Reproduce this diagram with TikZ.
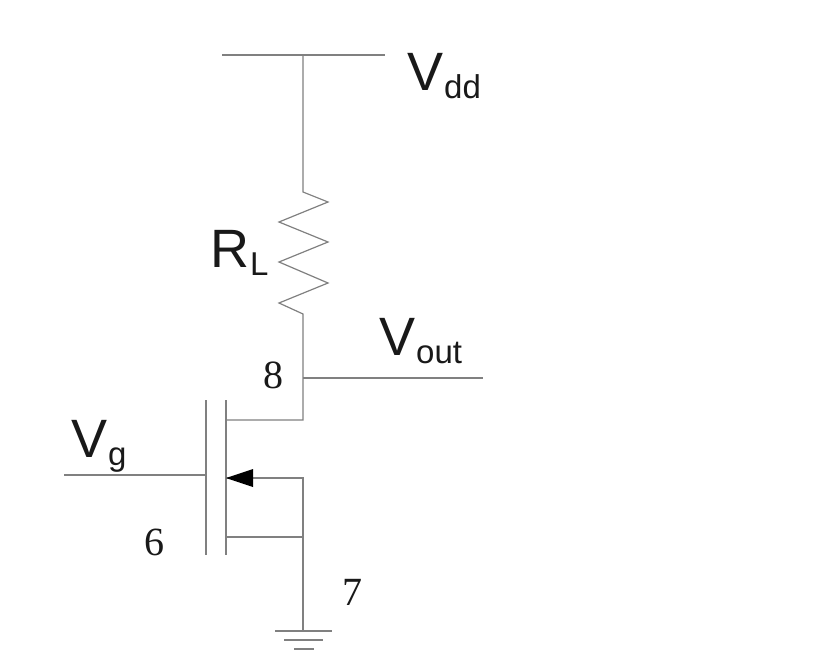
\documentclass[tikz,border=0pt]{standalone}
\usepackage{fontspec}
\setmainfont{Liberation Serif}
\setsansfont{Liberation Sans}
\tikzset{wire/.style={draw=black!50,line width=1.2pt},
plate/.style={draw=black!50,line width=1.4pt},
big/.style={font=\sffamily\fontsize{54}{54}\selectfont,inner sep=0pt,anchor=base west,text=black!90},
num/.style={font=\fontsize{40}{40}\selectfont,inner sep=0pt,anchor=base,text=black!90}}
\newcommand{\lbl}[2]{#1\kern1pt\raisebox{-8pt}{\fontsize{33}{33}\selectfont #2}}
\begin{document}
\begin{tikzpicture}[x=1pt,y=-1pt]
\useasboundingbox (0,0) rectangle (825,672);
\coordinate (vl) at (222,55); \coordinate (vr) at (385,55); \coordinate (vt) at (303,55);
\coordinate (ra) at (303,192); \coordinate (rb) at (303,314);
\coordinate (vo) at (303,378); \coordinate (voe) at (483,378);
\coordinate (dr) at (303,420); \coordinate (dl) at (226,420);
\coordinate (sr) at (303,478); \coordinate (sl) at (226,478);
\coordinate (br) at (303,537); \coordinate (bl) at (226,537);
\coordinate (gs) at (64,475); \coordinate (ge) at (206,475);
\coordinate (gt) at (303,631);
\draw[wire] (vl)--(vr);
\draw[wire] (vt)--(ra)--(328,202)--(279,222)--(328,242)--(279,262)--(328,283)--(279,303)--(rb)--(dr)--(dl);
\draw[wire] (vo)--(voe);
\draw[plate] (206,400)--(206,555);
\draw[plate] (226,400)--(226,555);
\draw[wire] (ge)--(gs);
\draw[wire] (sl)--(sr)--(gt);
\draw[wire] (bl)--(br);
\fill[black] (226,478)--(253,469)--(253,487)--cycle;
\draw[wire] (275,631)--(332,631) (284,640)--(323,640) (294,649)--(314,649);
\node[big] (a) at (407,90) {\lbl{V}{dd}};
\node[big] (b) at (210,267) {\lbl{R}{L}};
\node[big] (c) at (379,355) {\lbl{V}{out}};
\node[big] (d) at (71,457) {\lbl{V}{g}};
\node[num] (e) at (273,388) {8};
\node[num] (f) at (154,555) {6};
\node[num] (g) at (352,605) {7};
\end{tikzpicture}
\end{document}
